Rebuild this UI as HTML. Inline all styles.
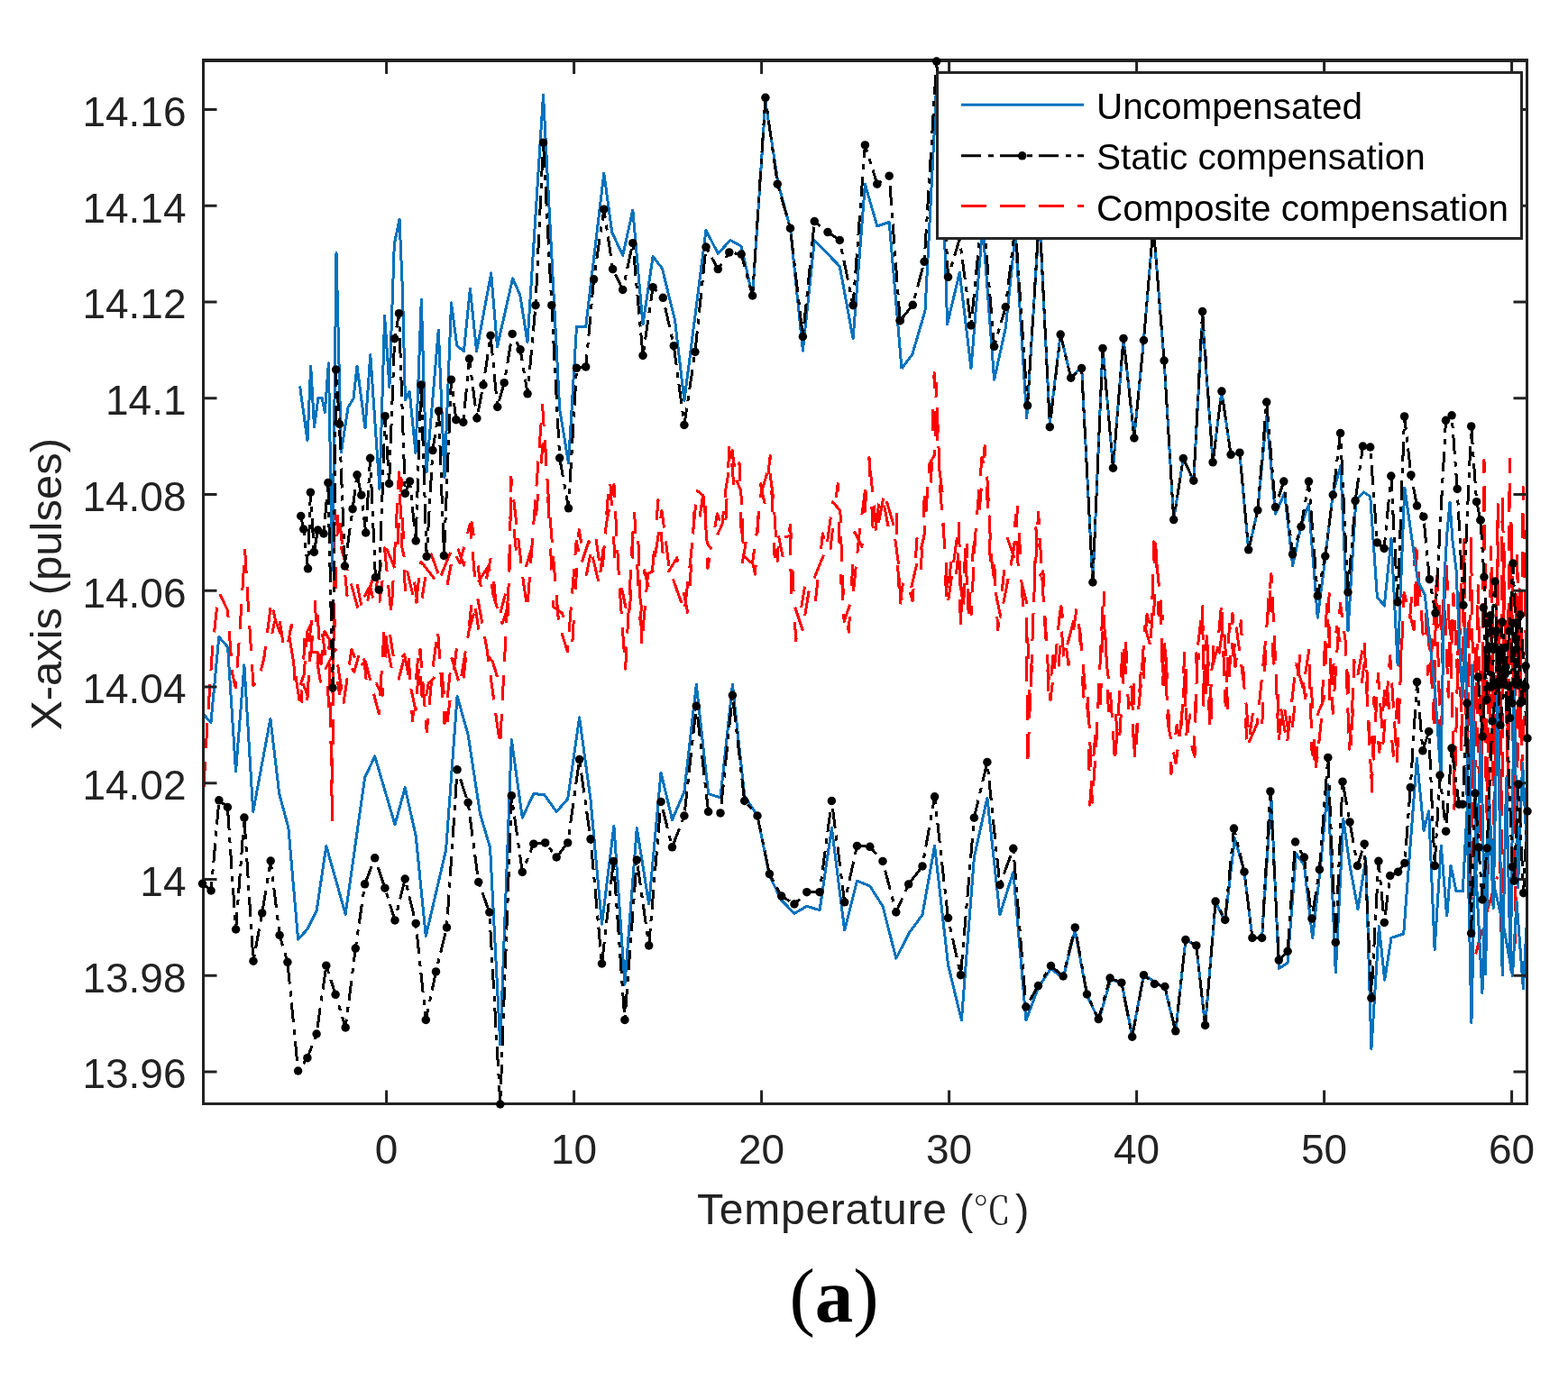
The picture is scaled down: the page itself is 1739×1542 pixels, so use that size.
<!DOCTYPE html><html><head><meta charset="utf-8"><style>html,body{margin:0;padding:0;background:#fff;overflow:hidden}svg{display:block}</style></head><body><svg width="1739" height="1542" viewBox="0 0 1739 1542">
<rect width="1739" height="1542" fill="#fff"/>
<defs><clipPath id="cp"><rect x="225.5" y="67.0" width="1468.0" height="1157.5"/></clipPath></defs>
<g clip-path="url(#cp)" stroke-linejoin="round" stroke-linecap="butt" shape-rendering="crispEdges">
<polyline points="226.0,873.0 229.7,807.0 235.5,721.0 240.0,679.0 243.7,659.0 252.5,677.0 257.7,747.0 261.2,763.0 264.7,719.0 271.7,610.0 274.0,651.0 276.8,695.0 281.0,761.0 288.0,749.0 292.7,731.0 300.8,668.0 305.5,688.0 312.5,707.0 320.7,705.0 325.3,733.0 332.4,779.0 340.5,782.0 344.0,723.0 352.0,723.0 360.0,744.0 372.0,720.0 381.0,780.0 390.0,720.0 397.0,740.0 405.6,734.0 412.0,760.0 420.3,792.0 426.0,700.0 434.0,740.0 448.7,726.0 455.0,760.0 461.0,788.0 466.0,720.0 473.3,812.0 480.0,740.0 485.6,700.0 493.0,803.0 501.0,730.0 510.0,760.0 520.0,700.0 530.0,665.0 540.0,720.0 554.6,827.0 562.5,675.3" fill="none" stroke="#ff0000" stroke-width="3" stroke-dasharray="28,15"/>
<polyline points="333.0,760.0 337.0,749.0 341.0,700.0 346.0,690.0 352.0,680.0 356.0,737.0 360.0,700.0 365.0,709.0 368.5,910.0 371.0,566.0 378.5,608.0 390.0,650.0 397.0,675.0 410.5,650.0 414.0,665.0 426.5,608.0 434.0,682.0 442.5,524.0 446.0,608.0 454.8,647.0 461.0,672.0 467.0,623.0 485.6,647.0 501.6,608.0 510.0,625.0 521.3,581.0 527.5,650.0 542.3,627.0 547.0,660.0 557.0,692.0 562.5,675.3" fill="none" stroke="#ff0000" stroke-width="3" stroke-dasharray="28,15"/>
<polyline points="562.5,675.3 565.3,630.7 566.7,529.0 580.7,647.4 584.8,675.3 601.6,449.5 608.5,555.4 619.7,692.0 629.4,722.7 639.2,600.0 644.8,625.1 653.1,600.0 664.3,647.4 672.6,580.5 681.0,537.3 686.6,644.6 693.6,742.2 701.9,590.3 707.5,588.9 711.7,714.3 718.6,636.3 724.2,633.5 734.0,566.6 742.3,630.7 759.1,678.1 766.0,619.5 773.0,544.3 780.0,549.9 784.2,602.8 788.4,608.4 800.9,581.9 805.1,541.5 812.1,499.7 816.2,531.7 821.8,544.3 824.6,616.8 834.4,625.1 839.9,586.1 844.1,547.1 853.0,517.8 858.0,555.4 862.2,622.3 863.6,597.2 876.2,594.5 877.6,661.4 890.1,699.0 897.1,655.8 909.6,625.1 916.6,608.4 923.6,556.8 931.9,566.6 934.7,661.4 936.1,689.2 945.9,661.4 952.8,594.5 959.8,541.5 965.4,523.4 972.3,591.7 980.7,547.1 990.5,580.5 996.0,622.3 998.8,665.5 1010.0,654.7 1016.9,625.1 1018.9,618.9 1024.9,595.0 1030.9,514.5 1036.8,504.1 1038.3,425.0 1042.8,544.4 1048.8,618.9 1051.7,666.6 1056.2,633.8 1063.7,580.1 1065.2,693.4 1071.1,607.0 1072.6,660.6 1077.1,681.5 1081.6,595.0 1089.0,507.1 1095.0,532.4 1099.4,618.9 1105.4,663.6 1109.9,684.5 1124.8,607.0 1126.3,571.2 1129.3,630.8 1138.2,666.6 1139.7,848.5 1147.1,654.7 1151.6,568.2 1156.1,645.7 1159.1,696.4 1165.0,776.9 1171.0,726.2 1175.5,678.5 1180.0,729.2 1191.9,684.5 1197.8,699.4 1203.8,768.0 1208.3,806.7 1211.3,890.2 1215.7,827.6 1223.2,669.6 1227.6,738.2 1232.1,776.9 1236.6,845.5 1245.5,714.3 1249.9,758.5 1255.4,763.0 1257.6,838.0 1262.0,793.8 1265.4,758.5 1269.8,694.6 1276.4,718.8 1279.7,600.8 1283.0,626.2 1287.4,670.3 1289.6,758.5 1291.8,714.4 1295.2,802.7 1304.0,846.8 1308.4,815.9 1311.7,780.6 1315.0,736.5 1316.1,804.9 1323.8,835.8 1326.0,791.6 1328.2,718.8 1333.8,672.5 1334.9,782.8 1338.2,705.6 1341.5,802.7 1343.7,743.1 1350.3,718.8 1354.7,669.2 1359.1,782.8 1363.5,692.4 1368.0,727.7 1371.3,696.8 1381.2,771.8 1385.6,822.5 1394.4,802.7 1403.2,714.4 1409.9,636.1 1414.3,727.7 1417.6,811.5 1420.9,787.2 1427.5,824.7 1437.4,736.5 1445.2,763.0 1451.8,721.0 1455.1,835.8 1460.6,844.6 1465.0,802.7 1471.6,670.3 1473.8,703.4 1478.2,791.6 1486.5,669.2 1492.0,710.0 1496.5,831.2 1500.9,762.9 1505.3,751.8 1513.0,710.0 1519.6,842.2 1521.8,864.3 1528.4,747.4 1534.0,824.6 1541.7,727.6 1549.4,844.5 1557.1,657.0 1568.1,698.9 1571.4,610.7 1578.0,703.3 1582.5,690.1 1586.9,736.4 1590.2,802.6" fill="none" stroke="#ff0000" stroke-width="3" stroke-dasharray="28,15"/>
<polyline points="1590.2,802.6 1592.9,649.6 1597.7,831.1 1601.4,641.9 1606.2,773.2 1608.7,689.5 1612.9,897.5 1618.5,658.5 1620.8,834.0 1623.8,598.7 1626.8,888.1 1631.5,596.0 1635.4,891.5 1639.1,649.4 1643.4,863.1 1646.0,510.5 1650.6,969.3 1654.8,627.1 1656.6,982.1 1661.2,559.6 1663.6,955.7 1666.2,549.9 1671.9,823.6 1674.3,509.0 1678.9,911.9 1682.6,609.8 1686.1,823.3 1689.2,540.5 1694.8,860.8" fill="none" stroke="#ff0000" stroke-width="3" stroke-dasharray="28,15"/>
<polyline points="1586.9,736.4 1593.7,639.4 1599.3,712.0 1604.2,625.8 1609.2,735.6 1612.0,658.3 1616.2,744.6 1620.7,648.4 1625.0,721.9 1628.4,690.8 1631.1,997.9 1636.4,712.0 1642.1,934.3 1644.6,714.0 1648.9,901.4 1653.8,606.9 1657.3,863.8 1660.7,696.4 1664.8,1033.5 1667.9,603.1 1672.1,885.3 1676.5,581.1 1680.8,1046.1 1685.1,653.5 1687.6,853.6 1693.7,714.0" fill="none" stroke="#ff0000" stroke-width="3" stroke-dasharray="28,15"/>
<polyline points="1636.7,1058.4 1648.0,1015.0 1660.7,972.3" fill="none" stroke="#ff0000" stroke-width="3" stroke-dasharray="28,15"/>
<polyline points="563.4,682.5 566.5,552.7 573.8,624.2 581.4,635.4 591.8,600.4 603.8,474.7 613.9,673.5 623.4,680.0 634.7,714.8 642.2,587.5 650.4,637.5 659.8,590.0 667.4,642.5 676.2,525.3 682.8,633.4 690.5,657.2 697.9,693.1 703.4,564.6 710.1,689.4 714.6,632.7 721.3,659.9 730.0,554.6 737.4,640.9 750.8,618.7 763.2,682.4 770.9,553.4 776.3,572.1 781.1,537.9 784.9,630.6 795.4,569.9 804.1,593.9 809.2,487.7 814.4,543.7 820.0,513.0 823.1,625.5 828.2,596.0 837.6,637.1 843.0,535.1 848.2,559.1 854.1,505.8 859.1,617.4 861.6,584.8 868.8,620.9 876.6,582.5 882.6,711.0 893.7,643.8 904.3,667.8 912.4,591.8 919.7,620.4 929.1,536.7 932.3,646.0 934.6,649.4 941.3,701.2 947.9,590.4 955.9,606.5 964.0,507.5 968.9,601.1 977.0,542.8 986.8,592.5 994.4,568.5 997.1,677.5 1003.2,635.1 1012.1,666.7 1017.0,597.0 1021.4,632.0 1026.4,525.2 1032.7,534.3 1036.1,413.3 1040.9,514.2 1045.1,546.2 1049.8,671.4 1055.0,621.8 1059.8,645.8 1063.2,608.7 1067.7,683.1 1072.8,604.0 1073.4,696.0 1079.4,608.9 1085.4,576.9 1092.1,494.8 1098.3,621.5 1101.7,606.9 1106.7,699.0 1117.4,597.4 1125.0,619.0 1128.7,559.2 1134.8,678.6 1139.9,710.4 1142.6,792.1 1148.9,585.6 1152.4,640.3 1156.9,633.7 1163.4,775.1 1169.3,714.2 1174.6,738.2 1176.9,672.0 1185.0,738.0 1195.2,667.0 1201.8,773.1 1206.5,756.0 1208.6,893.3 1214.7,815.6 1220.2,787.9 1224.4,657.6 1229.3,788.9 1235.8,774.3 1240.8,833.3 1248.4,706.3 1251.5,785.8 1257.7,751.3 1258.7,850.0 1265.1,746.5 1267.2,768.0 1272.0,681.7 1279.5,704.3 1281.4,588.5 1285.0,682.3 1289.5,683.1 1290.0,770.2 1292.7,716.0 1298.9,858.8 1305.1,803.9 1309.6,827.9 1313.6,724.5 1315.3,816.9 1320.0,792.9 1325.0,839.3 1326.9,724.7 1329.5,730.8 1333.4,688.4 1337.2,785.9 1339.3,713.6 1342.8,814.7 1345.8,706.0 1351.7,727.3 1357.7,685.8 1361.5,785.4 1367.0,680.4 1370.0,739.7 1376.3,688.5 1383.3,834.5 1389.9,787.6 1399.4,809.8 1407.9,642.5 1412.3,735.2 1417.0,740.5 1418.1,824.4 1422.9,775.2 1431.2,825.7 1442.2,724.5 1447.5,775.0 1453.9,749.1 1459.0,865.2 1462.0,790.7 1468.0,776.1 1474.2,658.3 1475.0,785.4 1482.4,695.2 1488.3,722.0 1494.9,745.0 1498.9,835.3 1501.7,732.3 1509.5,763.8 1515.0,721.5 1521.6,878.2 1523.9,772.9 1529.8,834.4 1537.2,747.2 1545.3,838.4 1554.2,718.0 1561.5,710.9 1570.0,608.8 1573.5,683.7 1580.8,671.7 1583.4,748.4 1589.0,724.4" fill="none" stroke="#ff0000" stroke-width="3" stroke-dasharray="24,34" stroke-dashoffset="10"/>
<polyline points="301.9,703.0 307.7,672.5 316.5,729.5 323.2,693.0 328.2,774.2 336.5,759.5 341.1,771.5 346.7,703.0 355.4,756.1 366.8,709.8 376.5,769.4 385.0,734.5 392.8,745.4 402.0,712.0 407.9,772.0 417.5,758.3 424.1,771.8 430.0,688.0 441.0,758.0 452.4,714.0 457.5,800.0 464.1,723.1 469.4,789.7 475.3,757.8 481.5,752.0 488.6,732.4 495.8,802.5 506.6,718.0 514.3,751.1 524.4,656.0 534.0,718.6 546.6,734.5 560.0,779.8" fill="none" stroke="#ff0000" stroke-width="3" stroke-dasharray="24,34" stroke-dashoffset="10"/>
<polyline points="334.2,779.5 338.4,700.6 342.0,719.5 348.9,660.0 353.1,736.1 356.5,696.9 361.3,729.5 365.4,793.9 369.2,758.8 375.0,558.8 385.0,660.4 394.1,637.5 403.4,685.7 413.7,638.8 420.9,667.6 428.9,609.1 439.4,633.7 445.0,530.7 449.3,655.6 457.9,634.5 464.9,683.2 476.6,610.0 494.1,659.0 505.0,600.7 514.5,627.0 523.2,579.6 535.1,663.5 545.0,615.0 552.0,691.1 560.6,658.6" fill="none" stroke="#ff0000" stroke-width="3" stroke-dasharray="24,34" stroke-dashoffset="10"/>
<polyline points="332.6,428.4 341.0,489.0 344.7,406.0 348.5,474.0 353.0,441.0 357.0,441.0 360.3,457.6 364.4,403.0 368.7,632.8 373.0,280.6 378.4,502.0 386.0,452.0 392.0,442.0 396.0,406.0 405.0,475.0 410.8,393.4 421.0,543.0 426.6,350.6 431.9,429.4 437.3,270.9 443.0,243.2 446.5,323.4 449.4,444.0 454.2,434.3 461.0,503.0 467.3,332.0 473.0,524.0 486.3,366.0 493.0,530.0 500.5,336.0 506.8,383.7 514.5,389.5 521.4,320.5 528.6,389.5 544.7,303.0 551.5,384.7 568.6,308.8 576.8,327.3 585.0,379.8 602.5,105.2 620.7,453.7 630.5,513.9 639.5,362.4 649.7,362.4 669.8,192.1 678.7,257.6 690.7,283.5 701.8,233.1 713.0,360.1 724.1,284.4 734.4,297.7 748.6,355.7 758.9,444.8 783.0,255.4 796.3,281.2 810.1,266.5 822.2,273.2 834.6,328.9 848.9,112.8 863.2,204.2 876.5,253.2 890.4,389.1 903.3,266.5 931.3,295.5 946.1,375.7 959.4,204.2 972.8,250.9 986.2,246.5 1000.0,409.1" fill="none" stroke="#0072bd" stroke-width="3"/>
<polyline points="1000.0,409.1 1011.9,392.8 1026.0,344.7 1036.0,150.0 1039.0,85.0 1044.0,150.0 1050.6,359.6 1064.3,302.2 1077.0,408.6 1089.8,250.0 1102.6,421.3 1115.3,363.8 1126.0,260.0 1138.7,463.9 1152.8,240.0 1164.3,470.3 1176.2,370.3 1187.7,419.2 1199.6,406.4 1211.9,646.9 1223.0,385.1 1234.5,519.2 1246.0,374.5 1257.9,485.1 1268.5,376.6 1279.1,250.0 1291.1,400.0 1301.7,576.6 1312.3,508.6 1323.8,533.2 1333.6,353.2 1345.1,512.8 1354.9,434.1 1365.1,504.3 1374.9,502.2 1384.7,610.7 1394.9,566.0 1404.7,461.7 1414.5,570.3 1424.7,546.9 1433.6,627.7 1443.0,583.0 1451.5,559.6 1461.3,685.1 1469.8,619.2 1478.3,546.9 1486.8,517.0 1495.0,700.0 1503.8,555.4 1512.3,545.9 1519.7,550.8 1527.4,662.5 1535.3,672.0 1543.0,597.5 1550.1,738.0 1557.8,541.0 1572.6,644.9 1580.3,660.0 1591.0,760.0 1598.0,860.0" fill="none" stroke="#0072bd" stroke-width="3"/>
<polyline points="224.2,790.8 233.9,801.6 242.8,706.7 252.6,717.8 261.5,856.0 270.9,737.9 280.7,900.5 299.9,797.2 309.7,880.5 319.9,918.4 330.6,1042.3 340.9,1030.7 351.1,1010.6 361.8,938.4 383.2,1014.2 404.6,862.7 415.7,839.0 438.0,914.8 449.2,873.8 461.2,927.3 472.3,1038.7 494.6,942.9 507.1,772.2 519.1,815.0 532.5,902.8 543.6,940.7 554.8,1159.0 567.3,820.3 579.3,907.2 591.8,880.5 603.8,881.8 617.2,900.5 629.7,886.3 642.6,795.8 655.0,887.2 667.5,1025.3 680.9,916.1 692.9,1092.2 706.3,918.4 719.7,1003.0 733.0,856.9 745.5,909.5 758.9,878.3 772.3,759.3 785.6,880.5 799.0,884.9 812.4,759.3 825.7,882.7 840.0,905.0 853.4,971.8 866.7,998.6 881.0,1013.3 894.8,1005.3 909.1,1009.7 922.4,918.4 936.7,1032.0 950.5,977.2 964.8,983.0 979.0,1005.3 993.8,1063.2 1008.9,1034.0 1023.0,1014.9 1036.6,938.3 1051.5,1070.2 1066.4,1131.9 1080.4,951.1 1094.9,885.1 1108.9,1014.9 1123.8,967.2 1137.9,1131.9 1151.5,1095.7 1165.5,1074.5 1179.1,1085.1 1192.3,1031.9 1205.5,1104.3 1218.7,1131.9 1231.5,1087.2 1243.8,1089.4 1255.7,1148.9 1268.5,1080.9 1280.4,1089.4 1291.9,1095.7 1303.8,1144.7 1314.9,1042.6 1326.8,1048.9 1336.6,1138.3 1348.1,1000.9 1358.7,1021.3 1369.4,929.8 1380.0,967.2 1388.9,1040.4 1399.6,1040.4 1409.8,883.0 1418.3,1074.5 1428.1,1068.1 1437.4,946.8 1446.4,960.0 1455.7,1040.4 1464.3,963.8 1472.8,870.2 1481.3,1078.7 1489.8,908.5 1497.0,960.0 1506.0,1008.5 1514.8,952.3 1520.9,1163.8 1529.4,1027.7 1535.7,1087.2 1543.0,1040.4 1556.7,1036.0 1571.4,841.5 1579.1,921.3 1584.7,900.0 1591.1,1053.2 1598.3,938.3 1604.7,1017.0" fill="none" stroke="#0072bd" stroke-width="3"/>
<polyline points="1598.0,860.0 1602.0,640.0 1605.0,590.0 1608.0,557.0 1611.0,600.0 1615.0,632.0 1619.0,720.0 1622.0,775.0 1625.2,697.2 1629.3,999.9 1632.6,737.9 1637.8,964.4 1642.5,809.3 1647.5,1080.7 1651.6,880.9 1656.1,1007.4 1660.8,771.2 1666.2,1082.0 1670.6,862.9 1675.3,1075.8 1679.1,764.2 1683.5,984.5 1688.6,846.0 1693.9,951.7" fill="none" stroke="#0072bd" stroke-width="3"/>
<polyline points="1604.7,1017.0 1609.0,960.0 1615.1,988.9 1622.3,988.9 1627.0,900.0 1631.9,1135.1 1636.0,950.0 1643.9,1101.5 1648.0,960.0 1652.0,900.0 1657.5,984.5 1668.0,1030.0 1677.5,1082.4 1682.0,1000.0 1689.4,1096.8 1694.0,1010.0" fill="none" stroke="#0072bd" stroke-width="3"/>
<polyline points="333.7,572.5 336.7,587.0 341.5,630.8 344.4,546.2 348.3,612.4 352.5,588.0 359.0,592.0 363.9,535.6 369.0,763.0 372.6,410.0 376.5,470.4 382.4,628.0 391.1,564.7 396.0,526.8 400.8,549.2 405.7,591.0 410.6,508.3 416.4,640.5 420.3,654.2 427.1,461.7 431.6,536.5 437.6,375.7 442.5,347.7 449.3,547.3 454.5,533.9 461.2,600.0 467.0,427.0 473.2,617.3 479.9,499.6 486.6,455.9 492.4,616.4 500.4,421.2 505.8,465.7 513.8,468.4 520.5,398.0 528.9,464.0 536.0,427.0 544.1,372.2 551.7,451.5 559.2,424.7 568.2,370.4 577.1,387.8 585.1,436.8 594.0,338.7 602.5,158.2 611.8,338.7 620.7,508.1 630.5,563.8 639.5,408.3 649.7,406.9 658.6,309.8 669.8,232.2 679.6,298.6 690.7,321.4 701.8,269.7 713.0,394.4 724.1,318.7 735.3,330.3 747.3,383.7 758.9,471.5 770.9,390.4 783.0,274.1 796.3,298.6 808.8,279.9 822.2,282.1 834.6,328.0 848.9,108.3 862.3,204.2 876.5,253.2 890.4,373.5 903.3,245.6 918.0,257.6 931.3,266.5 946.1,338.7 959.4,160.9 972.8,204.2 986.2,195.2 998.2,355.7" fill="none" stroke="#000" stroke-width="3" stroke-dasharray="22,8,6,7"/>
<polyline points="998.2,355.7 1012.3,338.3 1025.1,290.3 1038.7,68.1 1051.5,307.3 1064.3,265.0 1077.0,360.9 1089.8,230.0 1102.6,384.3 1115.3,340.5 1126.0,250.0 1139.6,449.8 1152.8,235.0 1164.3,473.7 1176.2,371.1 1187.7,419.2 1199.6,408.6 1211.9,646.0 1223.0,386.4 1234.5,519.2 1246.0,375.4 1257.9,486.0 1268.5,377.5 1279.1,250.0 1291.1,400.0 1301.7,576.6 1312.3,508.6 1323.8,533.2 1333.6,345.6 1345.1,512.8 1354.9,434.1 1365.1,504.3 1374.9,502.2 1384.7,609.8 1394.9,566.0 1404.7,446.0 1414.5,562.6 1423.8,534.1 1433.6,614.9 1443.0,584.3 1451.5,534.1 1461.3,660.9 1469.8,617.0 1478.3,549.0 1486.6,480.6 1495.0,657.0 1503.1,555.6 1511.5,495.0 1519.7,496.0 1527.4,601.9 1535.1,608.5 1542.8,528.0 1550.1,668.0 1557.6,461.9 1564.9,526.9 1571.5,561.1 1578.8,573.2 1585.4,642.7 1592.0,680.1 1603.5,466.3 1610.1,460.8 1616.2,542.4 1622.9,671.3 1631.7,472.9 1637.6,556.7 1642.0,577.0" fill="none" stroke="#000" stroke-width="3" stroke-dasharray="22,8,6,7"/>
<polyline points="224.5,980.3 234.1,988.0 242.9,887.8 252.4,895.5 261.6,1031.0 270.9,907.1 281.0,1066.2 290.7,1012.9 300.2,955.0 310.1,1037.5 318.9,1067.3 330.6,1188.0 340.9,1173.7 351.1,1147.0 361.8,1071.2 372.1,1103.3 383.2,1139.9 394.3,1052.1 404.6,980.8 415.7,951.8 426.9,985.2 438.0,1020.9 449.2,975.0 461.2,1024.4 472.3,1131.4 483.5,1077.9 495.5,1028.9 507.1,853.8 519.1,890.3 530.7,978.5 542.8,1012.0 554.8,1225.0 567.3,882.7 579.3,967.4 591.8,936.2 604.7,934.9 617.2,950.9 629.7,934.9 642.6,842.6 655.0,930.8 667.5,1069.0 680.4,955.4 692.9,1131.4 706.3,954.0 719.7,1048.9 733.0,889.4 745.5,939.8 758.9,905.0 772.3,783.3 785.6,900.5 799.0,901.9 812.4,771.3 825.7,888.5 840.0,905.0 853.4,969.6 866.7,994.1 881.0,1003.0 894.8,989.7 909.1,989.7 922.4,888.5 936.7,1000.8 950.5,938.4 964.8,939.3 979.0,955.4 993.8,1012.0 1007.7,980.9 1023.0,960.9 1036.6,883.8 1051.5,1018.3 1065.5,1081.7 1080.4,907.2 1094.9,845.5 1108.9,981.7 1123.8,941.3 1137.9,1117.0 1151.5,1093.6 1165.5,1071.5 1179.1,1083.0 1192.3,1028.9 1205.5,1103.0 1218.3,1130.6 1231.1,1085.1 1243.8,1090.2 1255.7,1150.2 1268.5,1081.7 1280.4,1091.5 1291.9,1094.5 1303.8,1143.8 1314.9,1042.6 1326.8,1048.9 1336.6,1137.4 1348.1,1000.0 1358.7,1020.4 1368.5,919.1 1380.0,967.2 1388.9,1040.4 1399.6,1040.4 1408.9,877.9 1418.3,1065.1 1428.1,1055.3 1436.6,934.0 1446.4,951.1 1454.9,1019.1 1463.4,964.7 1472.8,840.4 1481.3,1045.5 1489.0,867.2 1497.0,911.9 1505.5,960.4 1513.2,936.2 1520.9,1107.2 1528.9,955.3 1535.3,1023.4 1541.7,971.5 1550.6,967.2 1557.9,957.4 1564.3,873.6 1571.5,756.6 1577.9,832.8 1584.7,811.5 1591.1,960.4" fill="none" stroke="#000" stroke-width="3" stroke-dasharray="22,8,6,7"/>
<polyline points="1642.0,577.0 1646.0,640.0 1650.0,720.0 1654.0,700.0 1658.0,645.0 1662.0,760.0 1666.0,690.0 1670.0,740.0 1674.0,700.0 1678.0,625.0 1682.0,720.0 1686.0,780.0 1690.0,760.0 1694.0,819.0" fill="none" stroke="#000" stroke-width="3" stroke-dasharray="22,8,6,7"/>
<polyline points="1591.1,960.4 1597.0,860.0 1603.6,922.2 1610.0,830.0 1618.1,892.2 1622.2,892.2 1627.0,780.0 1631.6,1035.3 1636.0,880.0 1640.0,940.0 1644.0,998.0 1649.2,941.0 1655.0,800.0 1660.0,760.0 1665.0,720.0 1670.0,760.0 1677.2,961.7 1679.3,977.2 1684.0,870.0 1689.7,990.7 1694.0,900.0" fill="none" stroke="#000" stroke-width="3" stroke-dasharray="22,8,6,7"/>
<polyline points="1645.2,674.2 1648.9,776.2 1652.9,682.9 1656.7,760.2 1662.5,721.6 1666.0,752.2 1669.2,718.6 1674.5,796.5 1677.5,691.5 1681.2,759.0 1686.1,682.1 1691.7,761.7" fill="none" stroke="#000" stroke-width="3" stroke-dasharray="22,8,6,7"/>
<polyline points="1639.4,751.1 1644.2,817.1 1649.2,691.3 1653.1,762.5 1659.4,699.9 1663.9,804.6 1669.9,746.5 1676.9,779.9 1681.7,690.8 1687.8,777.9 1692.1,738.8" fill="none" stroke="#000" stroke-width="3" stroke-dasharray="22,8,6,7"/>
</g>
<g stroke="#222" stroke-width="3" fill="none">
<path d="M225.5,1224.5 V67.0 H1693.5 V1224.5 Z"/>
<path d="M224.0,67.0 H1695.0" stroke-width="4"/>
<path d="M225.5,121.50 h15 M1693.5,121.50 h-15"/>
<path d="M225.5,228.25 h15 M1693.5,228.25 h-15"/>
<path d="M225.5,335.00 h15 M1693.5,335.00 h-15"/>
<path d="M225.5,441.75 h15 M1693.5,441.75 h-15"/>
<path d="M225.5,548.50 h15 M1693.5,548.50 h-15"/>
<path d="M225.5,655.25 h15 M1693.5,655.25 h-15"/>
<path d="M225.5,762.00 h15 M1693.5,762.00 h-15"/>
<path d="M225.5,868.75 h15 M1693.5,868.75 h-15"/>
<path d="M225.5,975.50 h15 M1693.5,975.50 h-15"/>
<path d="M225.5,1082.25 h15 M1693.5,1082.25 h-15"/>
<path d="M225.5,1189.00 h15 M1693.5,1189.00 h-15"/>
<path d="M428.60,1224.5 v-15 M428.60,67.0 v15"/>
<path d="M636.60,1224.5 v-15 M636.60,67.0 v15"/>
<path d="M844.60,1224.5 v-15 M844.60,67.0 v15"/>
<path d="M1052.60,1224.5 v-15 M1052.60,67.0 v15"/>
<path d="M1260.60,1224.5 v-15 M1260.60,67.0 v15"/>
<path d="M1468.60,1224.5 v-15 M1468.60,67.0 v15"/>
<path d="M1676.60,1224.5 v-15 M1676.60,67.0 v15"/>
</g>
<g font-family="Liberation Sans, Arial, sans-serif" font-size="46" fill="#222">
<text x="206.5" y="139.8" text-anchor="end">14.16</text>
<text x="206.5" y="246.6" text-anchor="end">14.14</text>
<text x="206.5" y="353.3" text-anchor="end">14.12</text>
<text x="206.5" y="460.1" text-anchor="end">14.1</text>
<text x="206.5" y="566.8" text-anchor="end">14.08</text>
<text x="206.5" y="673.5" text-anchor="end">14.06</text>
<text x="206.5" y="780.3" text-anchor="end">14.04</text>
<text x="206.5" y="887.0" text-anchor="end">14.02</text>
<text x="206.5" y="993.8" text-anchor="end">14</text>
<text x="206.5" y="1100.5" text-anchor="end">13.98</text>
<text x="206.5" y="1207.3" text-anchor="end">13.96</text>
<text x="428.6" y="1290.5" text-anchor="middle">0</text>
<text x="636.6" y="1290.5" text-anchor="middle">10</text>
<text x="844.6" y="1290.5" text-anchor="middle">20</text>
<text x="1052.6" y="1290.5" text-anchor="middle">30</text>
<text x="1260.6" y="1290.5" text-anchor="middle">40</text>
<text x="1468.6" y="1290.5" text-anchor="middle">50</text>
<text x="1676.6" y="1290.5" text-anchor="middle">60</text>
</g>
<text x="773" y="1357.5" font-family="Liberation Sans, Arial, sans-serif" font-size="48" letter-spacing="0.75" fill="#222">Temperature</text>
<text x="1064" y="1357.5" font-family="Liberation Sans, Noto Serif CJK SC, serif" font-size="46" fill="#222">(</text>
<text x="1079" y="1357.5" font-family="Liberation Sans, Noto Serif CJK SC, serif" font-size="42" fill="#222">℃</text>
<text x="1126" y="1357.5" font-family="Liberation Sans, Noto Serif CJK SC, serif" font-size="46" fill="#222">)</text>
<text transform="translate(67.5,648) rotate(-90)" text-anchor="middle" font-family="Liberation Sans, Arial, sans-serif" font-size="49" fill="#222">X-axis (pulses)</text>
<text x="925" y="1465.5" text-anchor="middle" font-family="Liberation Serif, Times New Roman, serif" font-size="85" fill="#000"><tspan font-weight="normal">(</tspan><tspan font-weight="bold">a</tspan><tspan font-weight="normal">)</tspan></text>
<g>
<circle cx="333.7" cy="572.5" r="4.75"/>
<circle cx="336.7" cy="587.0" r="4.75"/>
<circle cx="341.5" cy="630.8" r="4.75"/>
<circle cx="344.4" cy="546.2" r="4.75"/>
<circle cx="348.3" cy="612.4" r="4.75"/>
<circle cx="352.5" cy="588.0" r="4.75"/>
<circle cx="359.0" cy="592.0" r="4.75"/>
<circle cx="363.9" cy="535.6" r="4.75"/>
<circle cx="369.0" cy="763.0" r="4.75"/>
<circle cx="372.6" cy="410.0" r="4.75"/>
<circle cx="376.5" cy="470.4" r="4.75"/>
<circle cx="382.4" cy="628.0" r="4.75"/>
<circle cx="391.1" cy="564.7" r="4.75"/>
<circle cx="396.0" cy="526.8" r="4.75"/>
<circle cx="400.8" cy="549.2" r="4.75"/>
<circle cx="405.7" cy="591.0" r="4.75"/>
<circle cx="410.6" cy="508.3" r="4.75"/>
<circle cx="416.4" cy="640.5" r="4.75"/>
<circle cx="420.3" cy="654.2" r="4.75"/>
<circle cx="427.1" cy="461.7" r="4.75"/>
<circle cx="431.6" cy="536.5" r="4.75"/>
<circle cx="437.6" cy="375.7" r="4.75"/>
<circle cx="442.5" cy="347.7" r="4.75"/>
<circle cx="449.3" cy="547.3" r="4.75"/>
<circle cx="454.5" cy="533.9" r="4.75"/>
<circle cx="461.2" cy="600.0" r="4.75"/>
<circle cx="467.0" cy="427.0" r="4.75"/>
<circle cx="473.2" cy="617.3" r="4.75"/>
<circle cx="479.9" cy="499.6" r="4.75"/>
<circle cx="486.6" cy="455.9" r="4.75"/>
<circle cx="492.4" cy="616.4" r="4.75"/>
<circle cx="500.4" cy="421.2" r="4.75"/>
<circle cx="505.8" cy="465.7" r="4.75"/>
<circle cx="513.8" cy="468.4" r="4.75"/>
<circle cx="520.5" cy="398.0" r="4.75"/>
<circle cx="528.9" cy="464.0" r="4.75"/>
<circle cx="536.0" cy="427.0" r="4.75"/>
<circle cx="544.1" cy="372.2" r="4.75"/>
<circle cx="551.7" cy="451.5" r="4.75"/>
<circle cx="559.2" cy="424.7" r="4.75"/>
<circle cx="568.2" cy="370.4" r="4.75"/>
<circle cx="577.1" cy="387.8" r="4.75"/>
<circle cx="585.1" cy="436.8" r="4.75"/>
<circle cx="594.0" cy="338.7" r="4.75"/>
<circle cx="602.5" cy="158.2" r="4.75"/>
<circle cx="611.8" cy="338.7" r="4.75"/>
<circle cx="620.7" cy="508.1" r="4.75"/>
<circle cx="630.5" cy="563.8" r="4.75"/>
<circle cx="639.5" cy="408.3" r="4.75"/>
<circle cx="649.7" cy="406.9" r="4.75"/>
<circle cx="658.6" cy="309.8" r="4.75"/>
<circle cx="669.8" cy="232.2" r="4.75"/>
<circle cx="679.6" cy="298.6" r="4.75"/>
<circle cx="690.7" cy="321.4" r="4.75"/>
<circle cx="701.8" cy="269.7" r="4.75"/>
<circle cx="713.0" cy="394.4" r="4.75"/>
<circle cx="724.1" cy="318.7" r="4.75"/>
<circle cx="735.3" cy="330.3" r="4.75"/>
<circle cx="747.3" cy="383.7" r="4.75"/>
<circle cx="758.9" cy="471.5" r="4.75"/>
<circle cx="770.9" cy="390.4" r="4.75"/>
<circle cx="783.0" cy="274.1" r="4.75"/>
<circle cx="796.3" cy="298.6" r="4.75"/>
<circle cx="808.8" cy="279.9" r="4.75"/>
<circle cx="822.2" cy="282.1" r="4.75"/>
<circle cx="834.6" cy="328.0" r="4.75"/>
<circle cx="848.9" cy="108.3" r="4.75"/>
<circle cx="862.3" cy="204.2" r="4.75"/>
<circle cx="876.5" cy="253.2" r="4.75"/>
<circle cx="890.4" cy="373.5" r="4.75"/>
<circle cx="903.3" cy="245.6" r="4.75"/>
<circle cx="918.0" cy="257.6" r="4.75"/>
<circle cx="931.3" cy="266.5" r="4.75"/>
<circle cx="946.1" cy="338.7" r="4.75"/>
<circle cx="959.4" cy="160.9" r="4.75"/>
<circle cx="972.8" cy="204.2" r="4.75"/>
<circle cx="986.2" cy="195.2" r="4.75"/>
<circle cx="998.2" cy="355.7" r="4.75"/>
<circle cx="998.2" cy="355.7" r="4.75"/>
<circle cx="1012.3" cy="338.3" r="4.75"/>
<circle cx="1025.1" cy="290.3" r="4.75"/>
<circle cx="1038.7" cy="68.1" r="4.75"/>
<circle cx="1051.5" cy="307.3" r="4.75"/>
<circle cx="1077.0" cy="360.9" r="4.75"/>
<circle cx="1102.6" cy="384.3" r="4.75"/>
<circle cx="1115.3" cy="340.5" r="4.75"/>
<circle cx="1139.6" cy="449.8" r="4.75"/>
<circle cx="1164.3" cy="473.7" r="4.75"/>
<circle cx="1176.2" cy="371.1" r="4.75"/>
<circle cx="1187.7" cy="419.2" r="4.75"/>
<circle cx="1199.6" cy="408.6" r="4.75"/>
<circle cx="1211.9" cy="646.0" r="4.75"/>
<circle cx="1223.0" cy="386.4" r="4.75"/>
<circle cx="1234.5" cy="519.2" r="4.75"/>
<circle cx="1246.0" cy="375.4" r="4.75"/>
<circle cx="1257.9" cy="486.0" r="4.75"/>
<circle cx="1268.5" cy="377.5" r="4.75"/>
<circle cx="1291.1" cy="400.0" r="4.75"/>
<circle cx="1301.7" cy="576.6" r="4.75"/>
<circle cx="1312.3" cy="508.6" r="4.75"/>
<circle cx="1323.8" cy="533.2" r="4.75"/>
<circle cx="1333.6" cy="345.6" r="4.75"/>
<circle cx="1345.1" cy="512.8" r="4.75"/>
<circle cx="1354.9" cy="434.1" r="4.75"/>
<circle cx="1365.1" cy="504.3" r="4.75"/>
<circle cx="1374.9" cy="502.2" r="4.75"/>
<circle cx="1384.7" cy="609.8" r="4.75"/>
<circle cx="1394.9" cy="566.0" r="4.75"/>
<circle cx="1404.7" cy="446.0" r="4.75"/>
<circle cx="1414.5" cy="562.6" r="4.75"/>
<circle cx="1423.8" cy="534.1" r="4.75"/>
<circle cx="1433.6" cy="614.9" r="4.75"/>
<circle cx="1443.0" cy="584.3" r="4.75"/>
<circle cx="1451.5" cy="534.1" r="4.75"/>
<circle cx="1461.3" cy="660.9" r="4.75"/>
<circle cx="1469.8" cy="617.0" r="4.75"/>
<circle cx="1478.3" cy="549.0" r="4.75"/>
<circle cx="1486.6" cy="480.6" r="4.75"/>
<circle cx="1495.0" cy="657.0" r="4.75"/>
<circle cx="1503.1" cy="555.6" r="4.75"/>
<circle cx="1511.5" cy="495.0" r="4.75"/>
<circle cx="1519.7" cy="496.0" r="4.75"/>
<circle cx="1527.4" cy="601.9" r="4.75"/>
<circle cx="1535.1" cy="608.5" r="4.75"/>
<circle cx="1542.8" cy="528.0" r="4.75"/>
<circle cx="1550.1" cy="668.0" r="4.75"/>
<circle cx="1557.6" cy="461.9" r="4.75"/>
<circle cx="1564.9" cy="526.9" r="4.75"/>
<circle cx="1571.5" cy="561.1" r="4.75"/>
<circle cx="1578.8" cy="573.2" r="4.75"/>
<circle cx="1585.4" cy="642.7" r="4.75"/>
<circle cx="1592.0" cy="680.1" r="4.75"/>
<circle cx="1603.5" cy="466.3" r="4.75"/>
<circle cx="1610.1" cy="460.8" r="4.75"/>
<circle cx="1616.2" cy="542.4" r="4.75"/>
<circle cx="1622.9" cy="671.3" r="4.75"/>
<circle cx="1631.7" cy="472.9" r="4.75"/>
<circle cx="1637.6" cy="556.7" r="4.75"/>
<circle cx="1642.0" cy="577.0" r="4.75"/>
<circle cx="224.5" cy="980.3" r="4.75"/>
<circle cx="234.1" cy="988.0" r="4.75"/>
<circle cx="242.9" cy="887.8" r="4.75"/>
<circle cx="252.4" cy="895.5" r="4.75"/>
<circle cx="261.6" cy="1031.0" r="4.75"/>
<circle cx="270.9" cy="907.1" r="4.75"/>
<circle cx="281.0" cy="1066.2" r="4.75"/>
<circle cx="290.7" cy="1012.9" r="4.75"/>
<circle cx="300.2" cy="955.0" r="4.75"/>
<circle cx="310.1" cy="1037.5" r="4.75"/>
<circle cx="318.9" cy="1067.3" r="4.75"/>
<circle cx="330.6" cy="1188.0" r="4.75"/>
<circle cx="340.9" cy="1173.7" r="4.75"/>
<circle cx="351.1" cy="1147.0" r="4.75"/>
<circle cx="361.8" cy="1071.2" r="4.75"/>
<circle cx="372.1" cy="1103.3" r="4.75"/>
<circle cx="383.2" cy="1139.9" r="4.75"/>
<circle cx="394.3" cy="1052.1" r="4.75"/>
<circle cx="404.6" cy="980.8" r="4.75"/>
<circle cx="415.7" cy="951.8" r="4.75"/>
<circle cx="426.9" cy="985.2" r="4.75"/>
<circle cx="438.0" cy="1020.9" r="4.75"/>
<circle cx="449.2" cy="975.0" r="4.75"/>
<circle cx="461.2" cy="1024.4" r="4.75"/>
<circle cx="472.3" cy="1131.4" r="4.75"/>
<circle cx="483.5" cy="1077.9" r="4.75"/>
<circle cx="495.5" cy="1028.9" r="4.75"/>
<circle cx="507.1" cy="853.8" r="4.75"/>
<circle cx="519.1" cy="890.3" r="4.75"/>
<circle cx="530.7" cy="978.5" r="4.75"/>
<circle cx="542.8" cy="1012.0" r="4.75"/>
<circle cx="554.8" cy="1225.0" r="4.75"/>
<circle cx="567.3" cy="882.7" r="4.75"/>
<circle cx="579.3" cy="967.4" r="4.75"/>
<circle cx="591.8" cy="936.2" r="4.75"/>
<circle cx="604.7" cy="934.9" r="4.75"/>
<circle cx="617.2" cy="950.9" r="4.75"/>
<circle cx="629.7" cy="934.9" r="4.75"/>
<circle cx="642.6" cy="842.6" r="4.75"/>
<circle cx="655.0" cy="930.8" r="4.75"/>
<circle cx="667.5" cy="1069.0" r="4.75"/>
<circle cx="680.4" cy="955.4" r="4.75"/>
<circle cx="692.9" cy="1131.4" r="4.75"/>
<circle cx="706.3" cy="954.0" r="4.75"/>
<circle cx="719.7" cy="1048.9" r="4.75"/>
<circle cx="733.0" cy="889.4" r="4.75"/>
<circle cx="745.5" cy="939.8" r="4.75"/>
<circle cx="758.9" cy="905.0" r="4.75"/>
<circle cx="772.3" cy="783.3" r="4.75"/>
<circle cx="785.6" cy="900.5" r="4.75"/>
<circle cx="799.0" cy="901.9" r="4.75"/>
<circle cx="812.4" cy="771.3" r="4.75"/>
<circle cx="825.7" cy="888.5" r="4.75"/>
<circle cx="840.0" cy="905.0" r="4.75"/>
<circle cx="853.4" cy="969.6" r="4.75"/>
<circle cx="866.7" cy="994.1" r="4.75"/>
<circle cx="881.0" cy="1003.0" r="4.75"/>
<circle cx="894.8" cy="989.7" r="4.75"/>
<circle cx="909.1" cy="989.7" r="4.75"/>
<circle cx="922.4" cy="888.5" r="4.75"/>
<circle cx="936.7" cy="1000.8" r="4.75"/>
<circle cx="950.5" cy="938.4" r="4.75"/>
<circle cx="964.8" cy="939.3" r="4.75"/>
<circle cx="979.0" cy="955.4" r="4.75"/>
<circle cx="993.8" cy="1012.0" r="4.75"/>
<circle cx="1007.7" cy="980.9" r="4.75"/>
<circle cx="1023.0" cy="960.9" r="4.75"/>
<circle cx="1036.6" cy="883.8" r="4.75"/>
<circle cx="1051.5" cy="1018.3" r="4.75"/>
<circle cx="1065.5" cy="1081.7" r="4.75"/>
<circle cx="1080.4" cy="907.2" r="4.75"/>
<circle cx="1094.9" cy="845.5" r="4.75"/>
<circle cx="1108.9" cy="981.7" r="4.75"/>
<circle cx="1123.8" cy="941.3" r="4.75"/>
<circle cx="1137.9" cy="1117.0" r="4.75"/>
<circle cx="1151.5" cy="1093.6" r="4.75"/>
<circle cx="1165.5" cy="1071.5" r="4.75"/>
<circle cx="1179.1" cy="1083.0" r="4.75"/>
<circle cx="1192.3" cy="1028.9" r="4.75"/>
<circle cx="1205.5" cy="1103.0" r="4.75"/>
<circle cx="1218.3" cy="1130.6" r="4.75"/>
<circle cx="1231.1" cy="1085.1" r="4.75"/>
<circle cx="1243.8" cy="1090.2" r="4.75"/>
<circle cx="1255.7" cy="1150.2" r="4.75"/>
<circle cx="1268.5" cy="1081.7" r="4.75"/>
<circle cx="1280.4" cy="1091.5" r="4.75"/>
<circle cx="1291.9" cy="1094.5" r="4.75"/>
<circle cx="1303.8" cy="1143.8" r="4.75"/>
<circle cx="1314.9" cy="1042.6" r="4.75"/>
<circle cx="1326.8" cy="1048.9" r="4.75"/>
<circle cx="1336.6" cy="1137.4" r="4.75"/>
<circle cx="1348.1" cy="1000.0" r="4.75"/>
<circle cx="1358.7" cy="1020.4" r="4.75"/>
<circle cx="1368.5" cy="919.1" r="4.75"/>
<circle cx="1380.0" cy="967.2" r="4.75"/>
<circle cx="1388.9" cy="1040.4" r="4.75"/>
<circle cx="1399.6" cy="1040.4" r="4.75"/>
<circle cx="1408.9" cy="877.9" r="4.75"/>
<circle cx="1418.3" cy="1065.1" r="4.75"/>
<circle cx="1428.1" cy="1055.3" r="4.75"/>
<circle cx="1436.6" cy="934.0" r="4.75"/>
<circle cx="1446.4" cy="951.1" r="4.75"/>
<circle cx="1454.9" cy="1019.1" r="4.75"/>
<circle cx="1463.4" cy="964.7" r="4.75"/>
<circle cx="1472.8" cy="840.4" r="4.75"/>
<circle cx="1481.3" cy="1045.5" r="4.75"/>
<circle cx="1489.0" cy="867.2" r="4.75"/>
<circle cx="1497.0" cy="911.9" r="4.75"/>
<circle cx="1505.5" cy="960.4" r="4.75"/>
<circle cx="1513.2" cy="936.2" r="4.75"/>
<circle cx="1520.9" cy="1107.2" r="4.75"/>
<circle cx="1528.9" cy="955.3" r="4.75"/>
<circle cx="1535.3" cy="1023.4" r="4.75"/>
<circle cx="1541.7" cy="971.5" r="4.75"/>
<circle cx="1550.6" cy="967.2" r="4.75"/>
<circle cx="1557.9" cy="957.4" r="4.75"/>
<circle cx="1564.3" cy="873.6" r="4.75"/>
<circle cx="1571.5" cy="756.6" r="4.75"/>
<circle cx="1577.9" cy="832.8" r="4.75"/>
<circle cx="1584.7" cy="811.5" r="4.75"/>
<circle cx="1591.1" cy="960.4" r="4.75"/>
<circle cx="1642.0" cy="577.0" r="4.75"/>
<circle cx="1646.0" cy="640.0" r="4.75"/>
<circle cx="1650.0" cy="720.0" r="4.75"/>
<circle cx="1654.0" cy="700.0" r="4.75"/>
<circle cx="1658.0" cy="645.0" r="4.75"/>
<circle cx="1662.0" cy="760.0" r="4.75"/>
<circle cx="1666.0" cy="690.0" r="4.75"/>
<circle cx="1670.0" cy="740.0" r="4.75"/>
<circle cx="1674.0" cy="700.0" r="4.75"/>
<circle cx="1678.0" cy="625.0" r="4.75"/>
<circle cx="1682.0" cy="720.0" r="4.75"/>
<circle cx="1686.0" cy="780.0" r="4.75"/>
<circle cx="1690.0" cy="760.0" r="4.75"/>
<circle cx="1694.0" cy="819.0" r="4.75"/>
<circle cx="1591.1" cy="960.4" r="4.75"/>
<circle cx="1597.0" cy="860.0" r="4.75"/>
<circle cx="1603.6" cy="922.2" r="4.75"/>
<circle cx="1610.0" cy="830.0" r="4.75"/>
<circle cx="1618.1" cy="892.2" r="4.75"/>
<circle cx="1622.2" cy="892.2" r="4.75"/>
<circle cx="1627.0" cy="780.0" r="4.75"/>
<circle cx="1631.6" cy="1035.3" r="4.75"/>
<circle cx="1636.0" cy="880.0" r="4.75"/>
<circle cx="1640.0" cy="940.0" r="4.75"/>
<circle cx="1644.0" cy="998.0" r="4.75"/>
<circle cx="1649.2" cy="941.0" r="4.75"/>
<circle cx="1655.0" cy="800.0" r="4.75"/>
<circle cx="1660.0" cy="760.0" r="4.75"/>
<circle cx="1665.0" cy="720.0" r="4.75"/>
<circle cx="1670.0" cy="760.0" r="4.75"/>
<circle cx="1677.2" cy="961.7" r="4.75"/>
<circle cx="1679.3" cy="977.2" r="4.75"/>
<circle cx="1684.0" cy="870.0" r="4.75"/>
<circle cx="1689.7" cy="990.7" r="4.75"/>
<circle cx="1694.0" cy="900.0" r="4.75"/>
<circle cx="1645.2" cy="674.2" r="4.75"/>
<circle cx="1648.9" cy="776.2" r="4.75"/>
<circle cx="1652.9" cy="682.9" r="4.75"/>
<circle cx="1656.7" cy="760.2" r="4.75"/>
<circle cx="1662.5" cy="721.6" r="4.75"/>
<circle cx="1666.0" cy="752.2" r="4.75"/>
<circle cx="1669.2" cy="718.6" r="4.75"/>
<circle cx="1674.5" cy="796.5" r="4.75"/>
<circle cx="1677.5" cy="691.5" r="4.75"/>
<circle cx="1681.2" cy="759.0" r="4.75"/>
<circle cx="1686.1" cy="682.1" r="4.75"/>
<circle cx="1691.7" cy="761.7" r="4.75"/>
<circle cx="1639.4" cy="751.1" r="4.75"/>
<circle cx="1644.2" cy="817.1" r="4.75"/>
<circle cx="1649.2" cy="691.3" r="4.75"/>
<circle cx="1653.1" cy="762.5" r="4.75"/>
<circle cx="1659.4" cy="699.9" r="4.75"/>
<circle cx="1663.9" cy="804.6" r="4.75"/>
<circle cx="1669.9" cy="746.5" r="4.75"/>
<circle cx="1676.9" cy="779.9" r="4.75"/>
<circle cx="1681.7" cy="690.8" r="4.75"/>
<circle cx="1687.8" cy="777.9" r="4.75"/>
<circle cx="1692.1" cy="738.8" r="4.75"/>
</g>
<rect x="1039.5" y="80.5" width="648" height="184" fill="#fff" stroke="#262626" stroke-width="3"/>
<g font-family="Liberation Sans, Arial, sans-serif" font-size="40.5" fill="#000">
<text x="1216" y="131.5">Uncompensated</text>
<text x="1216" y="188">Static compensation</text>
<text x="1216" y="244.5">Composite compensation</text>
</g>
<line x1="1066" y1="116.2" x2="1202" y2="116.2" stroke="#0072bd" stroke-width="3"/>
<line x1="1066" y1="172.8" x2="1202" y2="172.8" stroke="#000" stroke-width="3" stroke-dasharray="22,8,6,7"/>
<circle cx="1133.7" cy="172.8" r="4.75"/>
<line x1="1066" y1="228.6" x2="1202" y2="228.6" stroke="#ff0000" stroke-width="3" stroke-dasharray="28,15"/>
</svg></body></html>
